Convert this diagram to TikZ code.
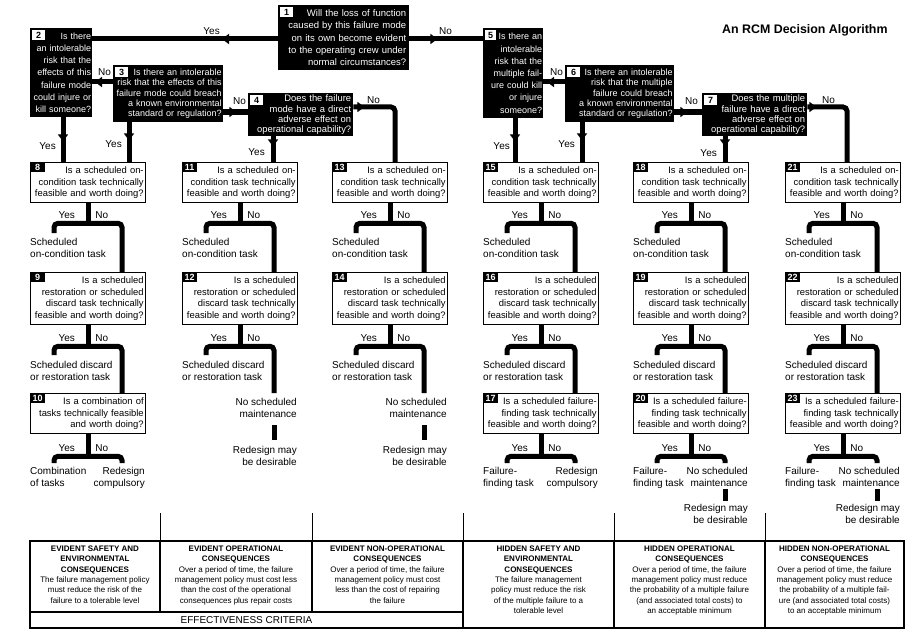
\documentclass[tikz,border=0pt]{standalone}
\usepackage{fontspec}
\setmainfont{Liberation Sans}
\usetikzlibrary{calc,arrows.meta,decorations.markings}
\newcommand\fB{\fontsize{9.4}{11.8}\selectfont}
\newcommand\fL{\fontsize{10}{12}\selectfont}
\newcommand\fN{\bfseries\fontsize{9}{9}\selectfont}
\tikzset{
  conn/.style={line width=5pt},
  rc/.style={rounded corners=4pt},
  arr/.style={postaction={decorate}, decoration={markings, mark=at position #1 with {\arrow{Triangle[width=10pt,length=7pt]}}}},
  wbox/.style={draw, line width=1.3pt, fill=white, align=right, anchor=north west, inner xsep=2pt, inner ysep=2pt, text width=111pt, font=\fB},
  bbox/.style={fill=black, text=white, align=right, anchor=north west, inner ysep=1pt},
  bbadge/.style={fill=black, text=white, font=\fN, anchor=north west, inner sep=0pt, minimum width=15pt, minimum height=10pt},
  wbadge/.style={fill=white, text=black, font=\fN, anchor=north west, inner sep=0pt, minimum width=13pt, minimum height=10pt},
  lbl/.style={font=\fL, inner sep=0pt},
  txt/.style={font=\fL, align=left, anchor=north west, inner sep=0pt},
  txtr/.style={font=\fL, align=right, anchor=north east, inner sep=0pt},
  cell/.style={font=\fontsize{8}{10.4}\selectfont, align=center, anchor=north, inner sep=0pt},
  thin/.style={line width=1.1pt},
  thick/.style={line width=2.2pt}
}
% rows 1-2 of a column: #1 left x, #2 first number, #3 second number
\newcommand\colTop[3]{%
  \node[wbox, minimum height=40pt] (b#2) at (#1,162) {Is a scheduled on-\\condition task technically\\feasible and worth doing?};
  \node[bbadge] (n#2) at (b#2.north west) {#2};
  \draw[conn] (b#2.south) -- ++(0,20) coordinate (j#2);
  \node[lbl, anchor=base east] (y#2) at ($(b#2.south)+(-13,15)$) {Yes};
  \node[lbl, anchor=base west] (x#2) at ($(b#2.south)+(7,15)$) {No};
  \node[txt] (t#2) at (#1,238) {Scheduled\\on-condition task};
  \node[wbox, minimum height=52pt] (b#3) at (#1,272) {Is a scheduled\\restoration or scheduled\\discard task technically\\feasible and worth doing?};
  \node[bbadge] (n#3) at (b#3.north west) {#3};
  \draw[conn, rc] ($(t#2.north west)+(24,-5)$) |- (j#2) -| ($(b#3.north west)+(92,0)$);
  \draw[conn] (b#3.south) -- ++(0,21) coordinate (j#3);
  \node[lbl, anchor=base east] (y#3) at ($(b#3.south)+(-13,16)$) {Yes};
  \node[lbl, anchor=base west] (x#3) at ($(b#3.south)+(7,16)$) {No};
  \node[txt] (t#3) at (#1,361) {Scheduled discard\\or restoration task};
}
% row 3 box: #1 left x, #2 previous number, #3 number, #4 text, #5 left result, #6 right result
\newcommand\colThird[6]{%
  \node[wbox, minimum height=40pt] (b#3) at (#1,393) {#4};
  \node[bbadge] (n#3) at (b#3.north west) {#3};
  \draw[conn, rc] ($(t#2.north west)+(24,-6)$) |- (j#2) -| ($(b#3.north west)+(92,0)$);
  \draw[conn] (b#3.south) -- ++(0,22) coordinate (j#3);
  \node[lbl, anchor=base east] (y#3) at ($(b#3.south)+(-13,17)$) {Yes};
  \node[lbl, anchor=base west] (x#3) at ($(b#3.south)+(7,17)$) {No};
  \node[txt] (l#3) at (#1,467) {#5};
  \node[txtr] (r#3) at (#1+115,467) {#6};
  \draw[conn, rc] ($(l#3.north west)+(24,-4)$) |- (j#3) -| ($(r#3.north east)+(-23,-4)$);
}
% no third box: #1 left x, #2 previous number
\newcommand\colNone[2]{%
  \node[txtr] (m#2) at (#1+115,398) {No scheduled\\maintenance};
  \draw[conn, rc] ($(t#2.north west)+(24,-6)$) |- (j#2) -| ($(m#2.north east)+(-23,-5)$);
  \node[txtr] (d#2) at (#1+115,446) {Redesign may\\be desirable};
  \draw[conn] ($(m#2.north east)+(-23,27)$) -- ($(d#2.north east)+(-23,-6)$);
}
\begin{document}
\begin{tikzpicture}[x=1pt, y=-1pt]
\useasboundingbox (0,0) rectangle (911,642);

\node[font=\bfseries\fontsize{12.4}{14}\selectfont, anchor=west, inner sep=0pt] (title) at (722,30) {An RCM Decision Algorithm};

% top decision boxes
\node[bbox, text width=125pt, inner xsep=3pt, minimum height=65pt, font=\fontsize{9.5}{12.2}\selectfont] (b1) at (278,5)
  {Will the loss of function\\caused by this failure mode\\on its own become evident\\to the operating crew under\\normal circumstances?};
\node[wbadge] (n1) at ($(b1.north west)+(2,2)$) {1};
\node[bbox, text width=60pt, inner xsep=1pt, minimum height=89pt, font=\fontsize{9}{12.2}\selectfont] (b2) at (30,28)
  {Is there\\an intolerable\\risk that the\\effects of this\\failure mode\\could injure or\\kill someone?};
\node[wbadge] (n2) at ($(b2.north west)+(2,2)$) {2};
\node[bbox, text width=107pt, inner xsep=1.5pt, minimum height=57pt, font=\fontsize{9}{10.4}\selectfont] (b3) at (113,65)
  {Is there an intolerable\\risk that the effects of this\\failure mode could breach\\a known environmental\\standard or regulation?};
\node[wbadge] (n3) at ($(b3.north west)+(2,2)$) {3};
\node[bbox, text width=101pt, inner xsep=2pt, minimum height=43pt, font=\fontsize{9.4}{10.2}\selectfont] (b4) at (248,93)
  {Does the failure\\mode have a direct\\adverse effect on\\operational capability?};
\node[wbadge] (n4) at ($(b4.north west)+(2,2)$) {4};
\node[bbox, text width=58pt, inner xsep=1pt, minimum height=90pt, font=\fontsize{9}{12.2}\selectfont] (b5) at (483,28)
  {Is there an\\intolerable\\risk that the\\multiple fail-\\ure could kill\\or injure\\someone?};
\node[wbadge, minimum width=11pt] (n5) at ($(b5.north west)+(2,2)$) {5};
\node[bbox, text width=106pt, inner xsep=1.5pt, minimum height=57pt, font=\fontsize{9}{10.4}\selectfont] (b6) at (565,65)
  {Is there an intolerable\\risk that the multiple\\failure could breach\\a known environmental\\standard or regulation?};
\node[wbadge] (n6) at ($(b6.north west)+(2,2)$) {6};
\node[bbox, text width=101pt, inner xsep=2pt, minimum height=43pt, font=\fontsize{9.4}{10.2}\selectfont] (b7) at (702,93)
  {Does the multiple\\failure have a direct\\adverse effect on\\operational capability?};
\node[wbadge] (n7) at ($(b7.north west)+(2,2)$) {7};

% columns
\colTop{30}{8}{9}
\colThird{30}{9}{10}{Is a combination of\\tasks technically feasible\\and worth doing?}{Combination\\of tasks}{Redesign\\compulsory}
\colTop{182}{11}{12}
\colNone{182}{12}
\colTop{332}{13}{14}
\colNone{332}{14}
\colTop{483}{15}{16}
\colThird{483}{16}{17}{Is a scheduled failure-\\finding task technically\\feasible and worth doing?}{Failure-\\finding task}{Redesign\\compulsory}
\colTop{633}{18}{19}
\colThird{633}{19}{20}{Is a scheduled failure-\\finding task technically\\feasible and worth doing?}{Failure-\\finding task}{No scheduled\\maintenance}
\node[txtr] (d20) at (748,504) {Redesign may\\be desirable};
\draw[conn] ($(r20.north east)+(-23,22)$) -- ($(d20.north east)+(-23,-3)$);
\colTop{785}{21}{22}
\colThird{785}{22}{23}{Is a scheduled failure-\\finding task technically\\feasible and worth doing?}{Failure-\\finding task}{No scheduled\\maintenance}
\node[txtr] (d23) at (900,504) {Redesign may\\be desirable};
\draw[conn] ($(r23.north east)+(-23,22)$) -- ($(d23.north east)+(-23,-3)$);

% top connectors
\draw[conn, arr=56pt] ($(b1.north west)+(0,34)$) -- ($(b2.north east)+(0,11)$);
\node[lbl, anchor=base east] (ly1) at (220,35) {Yes};
\draw[conn, arr=28pt] ($(b1.north east)+(0,34)$) -- ($(b5.north west)+(0,11)$);
\node[lbl, anchor=base west] (ln1) at (439,35) {No};
\draw[conn, arr=18pt] ($(b3.north west)+(0,17)$) -- ($(b2.north east)+(0,54)$);
\node[lbl, anchor=base west] (ln3) at (98,76) {No};
\draw[conn, arr=18pt] ($(b6.north west)+(0,17)$) -- ($(b5.north east)+(0,54)$);
\node[lbl, anchor=base west] (ln6) at (550,76) {No};
\draw[conn, arr=13pt] ($(b3.north east)+(0,47)$) -- ($(b4.north west)+(0,19)$);
\node[lbl, anchor=base west] (ln3b) at (233,104.5) {No};
\draw[conn, arr=13pt] ($(b6.north east)+(0,47)$) -- ($(b7.north west)+(0,19)$);
\node[lbl, anchor=base west] (ln6b) at (685,104.5) {No};
\draw[conn, rc, arr=11pt] ($(b4.north east)+(0,14)$) -| ($(b13.north west)+(63,0)$);
\node[lbl, anchor=base west] (ln4) at (367,103) {No};
\draw[conn, rc, arr=9pt] ($(b7.north east)+(0,14)$) -| ($(b21.north west)+(62,0)$);
\node[lbl, anchor=base west] (ln7) at (822,103) {No};

\draw[conn, arr=24pt] ($(b2.south west)+(33,0)$) -- ($(b8.north west)+(33,0)$);
\node[lbl, anchor=base east] (ly2) at (56,149) {Yes};
\draw[conn, arr=18pt] ($(b3.south west)+(16,0)$) -- ($(b8.north west)+(99,0)$);
\node[lbl, anchor=base east] (ly3) at (122,147) {Yes};
\draw[conn, arr=10pt] ($(b4.south west)+(25,0)$) -- ($(b11.north west)+(91,0)$);
\node[lbl, anchor=base east] (ly4) at (265,155) {Yes};
\draw[conn, arr=23pt] ($(b5.south west)+(32,0)$) -- ($(b15.north west)+(32,0)$);
\node[lbl, anchor=base east] (ly5) at (510,149) {Yes};
\draw[conn, arr=18pt] ($(b6.south west)+(17,0)$) -- ($(b15.north west)+(99,0)$);
\node[lbl, anchor=base east] (ly6) at (575,147) {Yes};
\draw[conn, arr=10pt] ($(b7.south west)+(23,0)$) -- ($(b18.north west)+(92,0)$);
\node[lbl, anchor=base east] (ly7) at (717,156) {Yes};

% bottom table
\foreach \xx in {160,312,463,614,765} \draw[line width=1pt] (\xx,513) -- (\xx,541);
\draw[thick] (30,541) rectangle (904,628);
\draw[thin] (160,541) -- (160,612);
\draw[thin] (312,541) -- (312,612);
\draw[thick] (463,541) -- (463,628);
\draw[thin] (614,541) -- (614,628);
\draw[thin] (765,541) -- (765,628);
\draw[line width=2pt] (30,612) -- (463,612);

\node[cell] (c1) at (95,545.5) {\textbf{EVIDENT SAFETY AND}\\\textbf{ENVIRONMENTAL}\\\textbf{CONSEQUENCES}\\The failure management policy\\must reduce the risk of the\\failure to a tolerable level};
\node[cell] (c2) at (236,545.5) {\textbf{EVIDENT OPERATIONAL}\\\textbf{CONSEQUENCES}\\Over a period of time, the failure\\management policy must cost less\\than the cost of the operational\\consequences plus repair costs};
\node[cell] (c3) at (387.5,545.5) {\textbf{EVIDENT NON-OPERATIONAL}\\\textbf{CONSEQUENCES}\\Over a period of time, the failure\\management policy must cost\\less than the cost of repairing\\the failure};
\node[cell] (c4) at (538.5,545.5) {\textbf{HIDDEN SAFETY AND}\\\textbf{ENVIRONMENTAL}\\\textbf{CONSEQUENCES}\\The failure management\\policy must reduce the risk\\of the multiple failure to a\\tolerable level};
\node[cell] (c5) at (689.5,545.5) {\textbf{HIDDEN OPERATIONAL}\\\textbf{CONSEQUENCES}\\Over a period of time, the failure\\management policy must reduce\\the probability of a multiple failure\\(and associated total costs) to\\an acceptable minimum};
\node[cell] (c6) at (834.5,545.5) {\textbf{HIDDEN NON-OPERATIONAL}\\\textbf{CONSEQUENCES}\\Over a period of time, the failure\\management policy must reduce\\the probability of a multiple fail-\\ure (and associated total costs)\\to an acceptable minimum};
\node[font=\fL, inner sep=0pt] (eff) at (246.5,620.5) {EFFECTIVENESS CRITERIA};
\end{tikzpicture}
\end{document}
